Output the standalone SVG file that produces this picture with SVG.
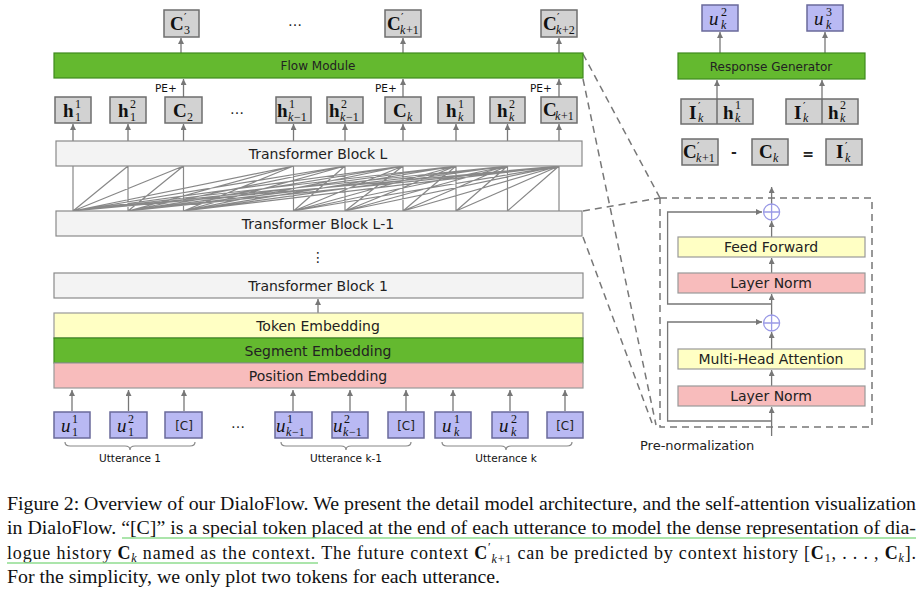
<svg xmlns="http://www.w3.org/2000/svg" width="924" height="591" viewBox="0 0 924 591">
<style>
.g{fill:#d2d2d2;stroke:#6e6e6e;stroke-width:1.5}
.p{fill:#b9b9f3;stroke:#6a6a9a;stroke-width:1.5}
.gr{fill:#64b92f;stroke:#3f8a1e;stroke-width:1.2}
.lg{fill:#f3f3f3;stroke:#8a8a8a;stroke-width:1.2}
.y{fill:#ffffc4;stroke:#999;stroke-width:1.2}
.pk{fill:#f8bcbc;stroke:#999;stroke-width:1.2}
.t{font-family:"DejaVu Sans",sans-serif;font-size:14px;fill:#222;text-anchor:middle}
.ts{font-family:"DejaVu Sans",sans-serif;font-size:12px;fill:#222;text-anchor:middle}
.m{font-family:"Liberation Serif",serif;font-size:19px;font-weight:bold;fill:#111}
.mi{font-family:"Liberation Serif",serif;font-size:19px;font-style:italic;fill:#111}
.s{font-family:"Liberation Serif",serif;font-size:12px;fill:#111}
.pr{font-family:"DejaVu Sans",sans-serif;font-size:11px;fill:#111}
.si{font-family:"Liberation Serif",serif;font-size:12px;font-style:italic;fill:#111}
.a{stroke:#777;stroke-width:1.3;fill:none;marker-end:url(#ar)}
.l{stroke:#888;stroke-width:1.2;fill:none}
.d{stroke:#777;stroke-width:1.5;fill:none;stroke-dasharray:7,5}
.cap{font-family:"Liberation Serif",serif;font-size:18px;fill:#111}
.sm{font-family:"DejaVu Sans",sans-serif;font-size:10.5px;fill:#111}
</style>
<defs>
<marker id="ar" markerWidth="8" markerHeight="8" refX="6" refY="3" orient="auto" markerUnits="userSpaceOnUse"><path d="M0,0 L6,3 L0,6 z" fill="#777"/></marker>
</defs>
<rect width="924" height="591" fill="#fff"/>

<g id="connectors">
<line class="a" x1="181" y1="53" x2="181" y2="38"/>
<line class="a" x1="403" y1="53" x2="403" y2="38"/>
<line class="a" x1="559" y1="53" x2="559" y2="38"/>
<line class="a" x1="183.5" y1="97" x2="183.5" y2="79"/>
<line class="a" x1="403" y1="97" x2="403" y2="79"/>
<line class="a" x1="559" y1="97" x2="559" y2="79"/>
<line class="a" x1="73" y1="141" x2="73" y2="124"/>
<line class="a" x1="128" y1="141" x2="128" y2="124"/>
<line class="a" x1="183.5" y1="141" x2="183.5" y2="124"/>
<line class="a" x1="293.5" y1="141" x2="293.5" y2="124"/>
<line class="a" x1="345" y1="141" x2="345" y2="124"/>
<line class="a" x1="403" y1="141" x2="403" y2="124"/>
<line class="a" x1="456" y1="141" x2="456" y2="124"/>
<line class="a" x1="507.5" y1="141" x2="507.5" y2="124"/>
<line class="a" x1="559" y1="141" x2="559" y2="124"/>
<path class="l" d="M73,211V166 M128,211V166 M183.5,211V166 M293.5,211V166 M345,211V166 M403,211V166 M456,211V166 M507.5,211V166 M559,211V166
M73,211L128,166 M73,211L183.5,166 M73,211L293.5,166 M73,211L345,166 M73,211L403,166 M73,211L456,166 M73,211L507.5,166 M73,211L559,166
M128,211L183.5,166 M128,211L293.5,166 M128,211L345,166 M128,211L403,166 M128,211L456,166 M128,211L507.5,166 M128,211L559,166
M183.5,211L293.5,166 M183.5,211L345,166 M183.5,211L403,166 M183.5,211L456,166 M183.5,211L507.5,166 M183.5,211L559,166
M293.5,211L345,166 M293.5,211L403,166 M293.5,211L456,166 M293.5,211L507.5,166 M293.5,211L559,166
M345,211L403,166 M345,211L456,166 M345,211L507.5,166 M345,211L559,166
M403,211L456,166 M403,211L507.5,166 M403,211L559,166
M456,211L507.5,166 M456,211L559,166
M507.5,211L559,166"/>
<line class="a" x1="318" y1="313" x2="318" y2="299"/>
<line class="a" x1="72" y1="411" x2="72" y2="390"/>
<line class="a" x1="128.5" y1="411" x2="128.5" y2="390"/>
<line class="a" x1="184" y1="411" x2="184" y2="390"/>
<line class="a" x1="293" y1="411" x2="293" y2="390"/>
<line class="a" x1="350" y1="411" x2="350" y2="390"/>
<line class="a" x1="406" y1="411" x2="406" y2="390"/>
<line class="a" x1="453" y1="411" x2="453" y2="390"/>
<line class="a" x1="510" y1="411" x2="510" y2="390"/>
<line class="a" x1="565" y1="411" x2="565" y2="390"/>
<path class="l" stroke-width="1" d="M65,442 Q65,446 70,446 L125,446 Q130,446 130,450 Q130,446 135,446 L190,446 Q195,446 195,442"/>
<path class="l" stroke-width="1" d="M281,442 Q281,446 286,446 L341,446 Q346,446 346,450 Q346,446 351,446 L406,446 Q411,446 411,442"/>
<path class="l" stroke-width="1" d="M442,442 Q442,446 447,446 L501,446 Q506,446 506,450 Q506,446 511,446 L567,446 Q572,446 572,442"/>
<line class="d" x1="583" y1="54" x2="660" y2="198"/>
<line class="d" x1="583" y1="79" x2="656" y2="425"/>
<line class="d" x1="583" y1="211" x2="660" y2="198"/>
<line class="d" x1="583" y1="237" x2="652" y2="423"/>
<line class="a" x1="720" y1="53" x2="720" y2="32"/>
<line class="a" x1="825" y1="53" x2="825" y2="32"/>
<line class="a" x1="717" y1="99" x2="717" y2="80"/>
<line class="a" x1="822" y1="99" x2="822" y2="80"/>
<line class="a" x1="771.6" y1="436" x2="771.6" y2="407"/>
<line class="a" x1="771.6" y1="386" x2="771.6" y2="370"/>
<line class="a" x1="771.6" y1="349" x2="771.6" y2="332"/>
<line class="a" x1="771.6" y1="315" x2="771.6" y2="294"/>
<line class="a" x1="771.6" y1="273" x2="771.6" y2="258"/>
<line class="a" x1="771.6" y1="237" x2="771.6" y2="221"/>
<line class="a" x1="771.6" y1="204" x2="771.6" y2="187"/>
<path class="a" d="M771.6,421 H667.6 V322 H762"/>
<path class="a" d="M771.6,304 H667.6 V212 H762"/>
</g>

<g id="output-tokens">
<rect class="g" x="164" y="10" width="35" height="27"/><text class="m" x="170" y="30">C</text><text class="pr" x="184" y="21">′</text><text class="s" x="184" y="34">3</text>
<text class="t" x="295" y="26">…</text>
<rect class="g" x="385" y="10" width="36" height="27"/><text class="m" x="387" y="30">C</text><text class="pr" x="401" y="21">′</text><text class="si" x="400" y="34">k</text><text class="s" x="406" y="34">+1</text>
<rect class="g" x="541" y="10" width="36" height="27"/><text class="m" x="543" y="30">C</text><text class="pr" x="557" y="21">′</text><text class="si" x="556" y="34">k</text><text class="s" x="562" y="34">+2</text>
</g>

<g id="flow-module"><rect class="gr" x="54" y="53" width="529" height="25"/><text class="ts" x="318" y="70">Flow Module</text></g>
<g id="pe-labels"><text class="sm" x="155" y="92">PE+</text><text class="sm" x="375" y="92">PE+</text><text class="sm" x="530" y="92">PE+</text></g>

<g id="hidden-tokens">
<rect class="g" x="55" y="97" width="36" height="26"/><text class="m" x="63" y="117">h</text><text class="s" x="75" y="108">1</text><text class="s" x="75" y="121">1</text>
<rect class="g" x="110" y="97" width="36" height="26"/><text class="m" x="118" y="117">h</text><text class="s" x="130" y="108">2</text><text class="s" x="130" y="121">1</text>
<rect class="g" x="165" y="97" width="37" height="26"/><text class="m" x="173" y="117">C</text><text class="s" x="187" y="121">2</text>
<text class="t" x="237" y="114">…</text>
<rect class="g" x="276" y="97" width="35" height="26"/><text class="m" x="277" y="117">h</text><text class="s" x="289" y="108">1</text><text class="si" x="288" y="121">k</text><text class="s" x="294" y="121">−1</text>
<rect class="g" x="327" y="97" width="36" height="26"/><text class="m" x="329" y="117">h</text><text class="s" x="341" y="108">2</text><text class="si" x="340" y="121">k</text><text class="s" x="346" y="121">−1</text>
<rect class="g" x="385" y="97" width="36" height="26"/><text class="m" x="393" y="117">C</text><text class="si" x="407" y="121">k</text>
<rect class="g" x="438" y="97" width="36" height="26"/><text class="m" x="446" y="117">h</text><text class="s" x="458" y="108">1</text><text class="si" x="458" y="121">k</text>
<rect class="g" x="490" y="97" width="35" height="26"/><text class="m" x="497" y="117">h</text><text class="s" x="509" y="108">2</text><text class="si" x="509" y="121">k</text>
<rect class="g" x="541" y="97" width="36" height="26"/><text class="m" x="543" y="116" font-size="16">C</text><text class="si" x="555" y="120">k</text><text class="s" x="561" y="120">+1</text>
</g>

<g id="transformer-L"><rect class="lg" x="56" y="141" width="526" height="25"/><text class="t" x="318" y="159">Transformer Block L</text></g>
<g id="transformer-L1"><rect class="lg" x="56" y="211" width="526" height="25"/><text class="t" x="318" y="229">Transformer Block L-1</text></g>
<text class="t" x="318" y="262">⋮</text>
<g id="transformer-1"><rect class="lg" x="54" y="273" width="529" height="25"/><text class="t" x="318" y="291">Transformer Block 1</text></g>
<g id="token-emb"><rect class="y" x="54" y="313" width="529" height="25"/><text class="t" x="318" y="331">Token Embedding</text></g>
<g id="segment-emb"><rect class="gr" x="54" y="338" width="529" height="25"/><text class="t" x="318" y="356">Segment Embedding</text></g>
<g id="position-emb"><rect class="pk" x="54" y="363" width="529" height="25"/><text class="t" x="318" y="381">Position Embedding</text></g>

<g id="input-tokens">
<rect class="p" x="54" y="412" width="36" height="26"/><text class="mi" x="61" y="432">u</text><text class="s" x="72" y="423">1</text><text class="s" x="72" y="436">1</text>
<rect class="p" x="110" y="412" width="37" height="26"/><text class="mi" x="117" y="432">u</text><text class="s" x="128" y="423">2</text><text class="s" x="128" y="436">1</text>
<rect class="p" x="165" y="412" width="37" height="26"/><text class="ts" x="184" y="430">[C]</text>
<text class="t" x="238" y="428">…</text>
<rect class="p" x="275" y="412" width="37" height="26"/><text class="mi" x="276" y="432">u</text><text class="s" x="287" y="423">1</text><text class="si" x="286" y="436">k</text><text class="s" x="292" y="436">−1</text>
<rect class="p" x="332" y="412" width="36" height="26"/><text class="mi" x="333" y="432">u</text><text class="s" x="344" y="423">2</text><text class="si" x="343" y="436">k</text><text class="s" x="349" y="436">−1</text>
<rect class="p" x="388" y="412" width="36" height="26"/><text class="ts" x="406" y="430">[C]</text>
<rect class="p" x="435" y="412" width="36" height="26"/><text class="mi" x="442" y="432">u</text><text class="s" x="454" y="423">1</text><text class="si" x="454" y="436">k</text>
<rect class="p" x="492" y="412" width="36" height="26"/><text class="mi" x="499" y="432">u</text><text class="s" x="511" y="423">2</text><text class="si" x="511" y="436">k</text>
<rect class="p" x="547" y="412" width="36" height="26"/><text class="ts" x="565" y="430">[C]</text>
</g>
<g id="utterance-labels"><text class="sm" x="130" y="462" text-anchor="middle">Utterance 1</text><text class="sm" x="346" y="462" text-anchor="middle">Utterance k-1</text><text class="sm" x="506" y="462" text-anchor="middle">Utterance k</text></g>

<g id="right-outputs">
<rect class="p" x="702" y="5" width="36" height="26"/><text class="mi" x="709" y="25">u</text><text class="s" x="721" y="16">2</text><text class="si" x="721" y="29">k</text>
<rect class="p" x="807" y="5" width="36" height="26"/><text class="mi" x="814" y="25">u</text><text class="s" x="826" y="16">3</text><text class="si" x="826" y="29">k</text>
</g>
<g id="response-generator"><rect class="gr" x="678" y="53" width="187" height="26"/><text class="ts" x="771" y="71">Response Generator</text></g>
<g id="ih-pairs">
<rect class="g" x="681" y="99" width="72" height="25"/><line x1="717" y1="99" x2="717" y2="124" stroke="#6e6e6e" stroke-width="1.5"/>
<text class="m" x="689" y="119">I</text><text class="pr" x="698" y="110">′</text><text class="si" x="698" y="122">k</text>
<text class="m" x="723" y="119">h</text><text class="s" x="735" y="109">1</text><text class="si" x="735" y="122">k</text>
<rect class="g" x="786" y="99" width="72" height="25"/><line x1="822" y1="99" x2="822" y2="124" stroke="#6e6e6e" stroke-width="1.5"/>
<text class="m" x="794" y="119">I</text><text class="pr" x="803" y="110">′</text><text class="si" x="803" y="122">k</text>
<text class="m" x="828" y="119">h</text><text class="s" x="840" y="109">2</text><text class="si" x="840" y="122">k</text>
</g>
<g id="equation">
<rect class="g" x="682" y="139" width="36" height="26"/><text class="m" x="683" y="158">C</text><text class="pr" x="697" y="150">′</text><text class="si" x="696" y="162">k</text><text class="s" x="702" y="162">+1</text>
<text class="t" x="734" y="157" font-weight="bold">-</text>
<rect class="g" x="752" y="139" width="36" height="26"/><text class="m" x="759" y="158">C</text><text class="si" x="773" y="162">k</text>
<text class="t" x="808" y="159" font-weight="bold" font-size="18">=</text>
<rect class="g" x="826" y="139" width="36" height="26"/><text class="m" x="836" y="158">I</text><text class="pr" x="845" y="150">′</text><text class="si" x="845" y="162">k</text>
</g>

<g id="prenorm-block">
<rect x="660" y="198" width="212" height="229" fill="none" class="d"/>
<circle cx="771.6" cy="212" r="8" fill="none" stroke="#9a9ae6" stroke-width="1.3"/><path d="M763.6,212H779.6M771.6,204V220" stroke="#9a9ae6" stroke-width="1.3"/>
<circle cx="771.6" cy="323" r="8" fill="none" stroke="#9a9ae6" stroke-width="1.3"/><path d="M763.6,323H779.6M771.6,315V331" stroke="#9a9ae6" stroke-width="1.3"/>
<rect class="y" x="678" y="237" width="187" height="20"/><text class="t" x="771" y="252">Feed Forward</text>
<rect class="pk" x="678" y="273" width="187" height="20"/><text class="t" x="771" y="288">Layer Norm</text>
<rect class="y" x="678" y="349" width="187" height="20"/><text class="t" x="771" y="364">Multi-Head Attention</text>
<rect class="pk" x="678" y="386" width="187" height="20"/><text class="t" x="771" y="401">Layer Norm</text>
<text font-family="DejaVu Sans,sans-serif" font-size="13" fill="#222" x="640" y="450">Pre-normalization</text>
</g>

<g id="caption">
<text class="cap" x="7" y="510" textLength="909" lengthAdjust="spacingAndGlyphs">Figure 2: Overview of our DialoFlow. We present the detail model architecture, and the self-attention visualization</text>
<text class="cap" x="7" y="534" textLength="909" lengthAdjust="spacingAndGlyphs">in DialoFlow. “[C]” is a special token placed at the end of each utterance to model the dense representation of dia-</text>
<text class="cap" x="7" y="559" textLength="909" lengthAdjust="spacing">logue history <tspan font-weight="bold">C</tspan><tspan font-style="italic" font-size="12" dy="3">k</tspan><tspan dy="-3"> named as the context. The future context </tspan><tspan font-weight="bold">C</tspan><tspan font-size="12" dy="-8">′</tspan><tspan font-style="italic" font-size="12" dy="12">k</tspan><tspan font-size="12">+1</tspan><tspan dy="-4"> can be predicted by context history [</tspan><tspan font-weight="bold">C</tspan><tspan font-size="12" dy="3">1</tspan><tspan dy="-3">, . . . , </tspan><tspan font-weight="bold">C</tspan><tspan font-style="italic" font-size="12" dy="3">k</tspan><tspan dy="-3">].</tspan></text>
<text class="cap" x="7" y="583" textLength="493" lengthAdjust="spacingAndGlyphs">For the simplicity, we only plot two tokens for each utterance.</text>
<line x1="122" y1="538" x2="916" y2="538" stroke="#8fdc8f" stroke-width="1.5"/>
<line x1="7" y1="563" x2="318" y2="563" stroke="#8fdc8f" stroke-width="1.5"/>
</g>
</svg>
